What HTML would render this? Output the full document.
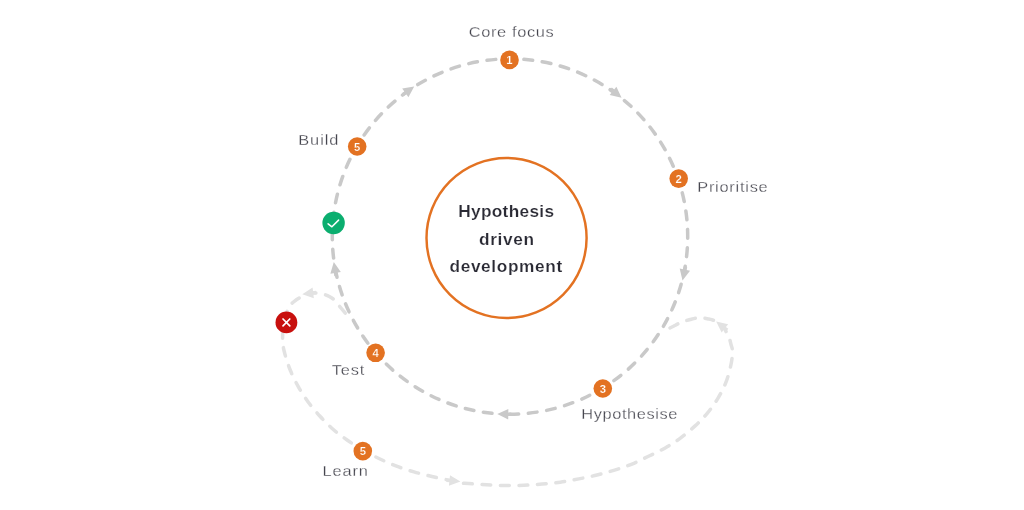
<!DOCTYPE html>
<html lang="en">
<head>
<meta charset="utf-8">
<title>Hypothesis driven development</title>
<style>
html,body{margin:0;padding:0;background:#fff;}
body{width:1024px;height:510px;overflow:hidden;}
svg{display:block;}
</style>
</head>
<body>
<svg width="1024" height="510" viewBox="0 0 1024 510" style="will-change:transform">
<rect width="1024" height="510" fill="#fff"/>
<path d="M345.3 313.2 C344.28 311.97 340.95 307.95 339.2 305.8 C337.45 303.65 336.45 301.85 334.8 300.3 C333.15 298.75 331.15 297.52 329.3 296.5 C327.45 295.48 325.62 294.77 323.7 294.2 C321.78 293.63 319.72 293.3 317.8 293.1 C315.88 292.9 313.13 293.02 312.2 293 L310.21 293.24" fill="none" stroke="#e2e2e2" stroke-width="3.5" stroke-linecap="round" stroke-dasharray="8.8 9.84" stroke-dashoffset="0"/>
<path d="M316.2 292.52 L312.23 293" fill="none" stroke="#e2e2e2" stroke-width="3.5"/>
<polygon points="302.3,294.2 312.58,287.61 313.86,298.14" fill="#e2e2e2"/>
<path d="M299.2 298 C298.5 298.47 296.47 299.63 295 300.8 C293.53 301.97 291.82 302.97 290.4 305 C288.98 307.03 287.63 310.13 286.5 313 C285.37 315.87 284.25 317.7 283.6 322.2 C282.95 326.7 282.45 334.95 282.6 340 C282.75 345.05 283.23 347.5 284.5 352.5 C285.77 357.5 287.88 364.28 290.2 370 C292.52 375.72 295.38 381.43 298.4 386.8 C301.42 392.17 304.7 397.3 308.3 402.2 C311.9 407.1 315.83 411.65 320 416.2 C324.17 420.75 328.67 425.45 333.3 429.5 C337.93 433.55 342.77 436.98 347.8 440.5 C352.83 444.02 358.13 447.52 363.5 450.6 C368.87 453.68 374.48 456.4 380 459 C385.52 461.6 390.93 464.05 396.6 466.2 C402.27 468.35 408.1 470.18 414 471.9 C419.9 473.62 425.9 475.05 432 476.5 C438.1 477.95 447.5 479.92 450.6 480.6 L452.59 480.8" fill="none" stroke="#e2e2e2" stroke-width="3.5" stroke-linecap="round" stroke-dasharray="8.8 9.71" stroke-dashoffset="0"/>
<path d="M446.47 480.18 L450.45 480.58" fill="none" stroke="#e2e2e2" stroke-width="3.5"/>
<polygon points="460.4,481.6 448.92,485.76 449.99,475.21" fill="#e2e2e2"/>
<path d="M463.5 483.3 C464.37 483.35 464.85 483.35 468.7 483.6 C472.55 483.85 480.52 484.48 486.6 484.8 C492.68 485.12 498.98 485.42 505.2 485.5 C511.42 485.58 517.77 485.55 523.9 485.3 C530.03 485.05 535.92 484.52 542 484 C548.08 483.48 554.27 483.05 560.4 482.2 C566.53 481.35 572.7 480.1 578.8 478.9 C584.9 477.7 591.03 476.47 597 475 C602.97 473.53 608.77 471.92 614.6 470.1 C620.43 468.28 626.35 466.4 632 464.1 C637.65 461.8 642.97 459 648.5 456.3 C654.03 453.6 659.88 450.93 665.2 447.9 C670.52 444.87 675.42 441.77 680.4 438.1 C685.38 434.43 690.6 430.07 695.1 425.9 C699.6 421.73 703.55 417.78 707.4 413.1 C711.25 408.42 715.05 403.08 718.2 397.8 C721.35 392.52 724.13 387.12 726.3 381.4 C728.47 375.68 730.18 368.57 731.2 363.5 C732.22 358.43 732.43 354.17 732.4 351 C732.37 347.83 731.57 346.75 731 344.5 C730.43 342.25 730.17 340.3 729 337.5 C727.83 334.7 724.83 329.33 724 327.7 L722.42 326.47" fill="none" stroke="#e2e2e2" stroke-width="3.5" stroke-linecap="round" stroke-dasharray="8.8 9.71" stroke-dashoffset="0"/>
<path d="M727.23 330.22 L724.08 327.76" fill="none" stroke="#e2e2e2" stroke-width="3.5"/>
<polygon points="716.2,321.6 728.13,324.2 721.6,332.55" fill="#e2e2e2"/>
<path d="M713.5 320.2 C712.72 320 711.13 319.4 708.8 319 C706.47 318.6 702.6 317.72 699.5 317.8 C696.4 317.88 693.18 318.77 690.2 319.5 C687.22 320.23 684.38 321.08 681.6 322.2 C678.82 323.32 675.68 325.1 673.5 326.2 C671.32 327.3 669.33 328.37 668.5 328.8" fill="none" stroke="#e2e2e2" stroke-width="3.5" stroke-linecap="round" stroke-dasharray="8.8 9.6" stroke-dashoffset="0"/>
<path d="M624.44 100.55 A177.7 177.7 0 0 1 684.19 271.63" fill="none" stroke="#c9c9c9" stroke-width="3.5" stroke-linecap="round" stroke-dasharray="8.8 9.64" stroke-dashoffset="0"/>
<path d="M685.5 266.79 L684.65 270.7" fill="none" stroke="#c9c9c9" stroke-width="3.5"/>
<polygon points="682.52,280.48 679.68,268.6 690.04,270.85" fill="#c9c9c9"/>
<path d="M681.16 284.26 A177.7 177.7 0 0 1 506.27 414.16" fill="none" stroke="#c9c9c9" stroke-width="3.5" stroke-linecap="round" stroke-dasharray="8.8 9.7" stroke-dashoffset="0"/>
<path d="M511.27 414.22 L507.27 414.18" fill="none" stroke="#c9c9c9" stroke-width="3.5"/>
<polygon points="497.27,414.08 508.32,408.89 508.22,419.49" fill="#c9c9c9"/>
<path d="M492.01 413.29 A177.7 177.7 0 0 1 335.65 270.86" fill="none" stroke="#c9c9c9" stroke-width="3.5" stroke-linecap="round" stroke-dasharray="8.8 9.52" stroke-dashoffset="0"/>
<path d="M336.06 275.86 L335.42 271.92" fill="none" stroke="#c9c9c9" stroke-width="3.5"/>
<polygon points="333.8,262.05 340.81,272.05 330.35,273.76" fill="#c9c9c9"/>
<path d="M333.61 258.03 A177.7 177.7 0 0 1 406.94 91.74" fill="none" stroke="#c9c9c9" stroke-width="3.5" stroke-linecap="round" stroke-dasharray="8.8 9.7" stroke-dashoffset="0"/>
<path d="M402.9 94.67 L406.13 92.32" fill="none" stroke="#c9c9c9" stroke-width="3.5"/>
<polygon points="414.21,86.43 408.44,97.19 402.2,88.62" fill="#c9c9c9"/>
<path d="M417.79 84.6 A177.7 177.7 0 0 1 614.21 92.56" fill="none" stroke="#c9c9c9" stroke-width="3.5" stroke-linecap="round" stroke-dasharray="8.8 9.66" stroke-dashoffset="0"/>
<path d="M610.72 88.89 L613.82 91.42" fill="none" stroke="#c9c9c9" stroke-width="3.5"/>
<polygon points="621.56,97.75 609.69,94.89 616.4,86.68" fill="#c9c9c9"/>
<circle cx="506.55" cy="238" r="80.05" fill="#fff" stroke="#e37222" stroke-width="2.45"/>
<circle cx="509.5" cy="59.9" r="9.3" fill="#e37222"/>
<text transform="translate(509.5 64) scale(1.08 1)" text-anchor="middle" font-family="&quot;Liberation Sans&quot;, sans-serif" font-weight="bold" font-size="10.5" fill="#fff" stroke="#e37222" stroke-width="0.2">1</text>
<circle cx="678.7" cy="178.6" r="9.3" fill="#e37222"/>
<text transform="translate(678.7 182.7) scale(1.08 1)" text-anchor="middle" font-family="&quot;Liberation Sans&quot;, sans-serif" font-weight="bold" font-size="10.5" fill="#fff" stroke="#e37222" stroke-width="0.2">2</text>
<circle cx="602.8" cy="388.5" r="9.3" fill="#e37222"/>
<text transform="translate(602.8 392.6) scale(1.08 1)" text-anchor="middle" font-family="&quot;Liberation Sans&quot;, sans-serif" font-weight="bold" font-size="10.5" fill="#fff" stroke="#e37222" stroke-width="0.2">3</text>
<circle cx="375.6" cy="352.8" r="9.3" fill="#e37222"/>
<text transform="translate(375.6 356.9) scale(1.08 1)" text-anchor="middle" font-family="&quot;Liberation Sans&quot;, sans-serif" font-weight="bold" font-size="10.5" fill="#fff" stroke="#e37222" stroke-width="0.2">4</text>
<circle cx="357.2" cy="146.5" r="9.3" fill="#e37222"/>
<text transform="translate(357.2 150.6) scale(1.08 1)" text-anchor="middle" font-family="&quot;Liberation Sans&quot;, sans-serif" font-weight="bold" font-size="10.5" fill="#fff" stroke="#e37222" stroke-width="0.2">5</text>
<circle cx="362.8" cy="451.1" r="9.3" fill="#e37222"/>
<text transform="translate(362.8 455.2) scale(1.08 1)" text-anchor="middle" font-family="&quot;Liberation Sans&quot;, sans-serif" font-weight="bold" font-size="10.5" fill="#fff" stroke="#e37222" stroke-width="0.2">5</text>
<circle cx="333.6" cy="223" r="11.2" fill="#0bae6f"/>
<path d="M328.1 223.8 L331.9 226.8 L338.6 220.1" fill="none" stroke="#fff" stroke-width="1.5" stroke-linecap="round" stroke-linejoin="round"/>
<circle cx="286.4" cy="322.4" r="10.9" fill="#c8100e"/>
<path d="M283 319 L289.8 325.8 M289.8 319 L283 325.8" fill="none" stroke="#fff" stroke-width="1.7" stroke-linecap="round"/>
<text class="lbl" transform="translate(468.75 37.4) scale(1.07 1)" font-family="&quot;Liberation Sans&quot;, sans-serif" font-size="15.3" letter-spacing="0.613" fill="#45454e" stroke="#fff" stroke-width="0.25">Core focus</text>
<text class="lbl" transform="translate(697.25 192.3) scale(1.07 1)" font-family="&quot;Liberation Sans&quot;, sans-serif" font-size="15.3" letter-spacing="0.706" fill="#45454e" stroke="#fff" stroke-width="0.25">Prioritise</text>
<text class="lbl" transform="translate(581.25 418.7) scale(1.07 1)" font-family="&quot;Liberation Sans&quot;, sans-serif" font-size="15.3" letter-spacing="0.579" fill="#45454e" stroke="#fff" stroke-width="0.25">Hypothesise</text>
<text class="lbl" transform="translate(331.75 375) scale(1.07 1)" font-family="&quot;Liberation Sans&quot;, sans-serif" font-size="15.3" letter-spacing="0.763" fill="#45454e" stroke="#fff" stroke-width="0.25">Test</text>
<text class="lbl" transform="translate(298.25 145) scale(1.07 1)" font-family="&quot;Liberation Sans&quot;, sans-serif" font-size="15.3" letter-spacing="0.876" fill="#45454e" stroke="#fff" stroke-width="0.25">Build</text>
<text class="lbl" transform="translate(322.5 476.2) scale(1.07 1)" font-family="&quot;Liberation Sans&quot;, sans-serif" font-size="15.3" letter-spacing="0.829" fill="#45454e" stroke="#fff" stroke-width="0.25">Learn</text>
<text class="ctr" transform="translate(458.25 217) scale(1.08 1)" font-family="&quot;Liberation Sans&quot;, sans-serif" font-weight="bold" font-size="16" letter-spacing="0.273" fill="#2a2a34" stroke="#fff" stroke-width="0.18">Hypothesis</text>
<text class="ctr" transform="translate(479 244.5) scale(1.08 1)" font-family="&quot;Liberation Sans&quot;, sans-serif" font-weight="bold" font-size="16" letter-spacing="0.583" fill="#2a2a34" stroke="#fff" stroke-width="0.18">driven</text>
<text class="ctr" transform="translate(449.5 272.3) scale(1.08 1)" font-family="&quot;Liberation Sans&quot;, sans-serif" font-weight="bold" font-size="16" letter-spacing="0.574" fill="#2a2a34" stroke="#fff" stroke-width="0.18">development</text>
</svg>
</body>
</html>
